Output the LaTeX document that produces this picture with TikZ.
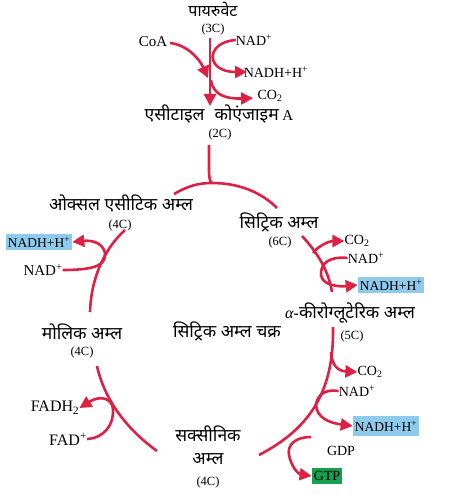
\documentclass[tikz,border=0pt]{standalone}
\usepackage{fontspec}
\setmainfont{Liberation Serif}
\newfontfamily\dev[Script=Devanagari]{Noto Sans}
\usetikzlibrary{arrows.meta}
\definecolor{kred}{RGB}{221,33,68}
\definecolor{kblue}{RGB}{142,202,236}
\definecolor{kgreen}{RGB}{22,160,82}
\begin{document}
\begin{tikzpicture}[x=1pt,y=-1pt,
  flow/.style={draw=kred, line width=2.6pt},
  arr/.style={flow, -{Triangle[length=12pt,width=12pt]}},
  lat/.style={inner sep=0pt, font=\fontsize{#1}{#1}\selectfont},
  lat/.default=15,
  hin/.style={inner sep=0pt, font=\dev\fontsize{#1}{#1}\selectfont},
  hin/.default=17.5,
  cnum/.style={inner sep=0pt, font=\fontsize{12.5}{13}\selectfont},
  bluebox/.style={fill=kblue, inner xsep=2pt, inner ysep=3pt, font=\fontsize{13.5}{13.5}\selectfont},
  greenbox/.style={fill=kgreen, inner xsep=2pt, inner ysep=3pt, font=\fontsize{14}{14}\selectfont}]
\useasboundingbox (0,0) rectangle (474,500);

% ---------- top: pyruvate -> acetyl CoA ----------
\node[hin=16] (pyr) at (213,9) {पायरुवेट};
\node[cnum] (c3) at (213,29) {(3C)};
\node[lat] (coa) at (153,42) {CoA};
\node[lat=14] (nad1) at (254,40) {NAD\textsuperscript{+}};
\node[lat=14] (nadh1) at (276,72) {NADH+H\textsuperscript{+}};
\node[lat=14] (co21) at (270,96) {CO\textsubscript{2}};
\node[lat] (acoa) at (219,114) {{\dev\fontsize{17.5}{17.5}\selectfont एसीटाइल\hspace{10pt}कोएंजाइम} A};
\node[cnum] (c2) at (220,134) {(2C)};

\coordinate (v1s) at (210,38);
\coordinate (v1e) at (210,106);
\draw[arr] (v1s) -- (v1e);
\coordinate (coaS) at (170,43);
\coordinate (coaE) at (208,78);
\draw[arr] (coaS) .. controls (188,45) and (200,60) .. (coaE);
\coordinate (n1s) at (236,40);
\coordinate (n1e) at (247,72);
\draw[arr] (n1s) .. controls (205,42) and (205,72) .. (n1e);
\coordinate (c1s) at (211,80);
\coordinate (c1e) at (253,98);
\draw[arr] (c1s) .. controls (213,96) and (228,99) .. (c1e);

% ---------- cycle labels ----------
\node[hin] (oxa) at (121,203) {ओक्सल एसीटिक अम्ल};
\node[cnum] (c4a) at (120,225) {(4C)};
\node[hin] (cit) at (279,222) {सिट्रिक अम्ल};
\node[cnum] (c6) at (280,242) {(6C)};
\node[lat=16] (ak) at (350,313) {\textit{α}-{\dev\fontsize{17.5}{17.5}\selectfont कीरोग्लूटेरिक अम्ल}};
\node[cnum] (c5) at (352,336) {(5C)};
\node[hin] (mal) at (82,332) {मोलिक अम्ल};
\node[cnum] (c4b) at (82,352) {(4C)};
\node[hin] (cyc) at (227,331) {सिट्रिक अम्ल चक्र};
\node[hin] (suc) at (208,434) {सक्सीनिक};
\node[hin] (suc2) at (208,459) {अम्ल};
\node[cnum] (c4c) at (208,482) {(4C)};

% ---------- side labels ----------
\node[bluebox] (nadhL) at (39,242) {NADH+H\textsuperscript{+}};
\node[lat] (nadL) at (43,270) {NAD\textsuperscript{+}};
\node[lat=14] (co2R) at (357,241) {CO\textsubscript{2}};
\node[lat=14] (nadR) at (366,258) {NAD\textsuperscript{+}};
\node[bluebox] (nadhR) at (391,285) {NADH+H\textsuperscript{+}};
\node[lat=14] (co2B) at (370,372) {CO\textsubscript{2}};
\node[lat=14] (nadB) at (357,391) {NAD\textsuperscript{+}};
\node[bluebox, inner ysep=5pt] (nadhB) at (386,426) {NADH+H\textsuperscript{+}};
\node[lat=14] (gdp) at (341,451) {GDP};
\node[greenbox] (gtp) at (327,476) {GTP};
\node[lat=16] (fadh) at (55,408) {FADH\textsubscript{2}};
\node[lat=16] (fad) at (68,439) {FAD\textsuperscript{+}};

% ---------- acetyl CoA into the cycle ----------
\coordinate (v2s) at (209,145);
\coordinate (j) at (212,183);
\coordinate (oxaE) at (174,194);
\coordinate (citS) at (277,208);
\draw[flow] (v2s) -- (209,170) .. controls (209,178) and (210,182) .. (j);
\draw[flow] (oxaE) .. controls (188,186) and (198,183) .. (j)
  .. controls (240,183) and (262,193) .. (citS);

% ---------- citric -> alpha-ketoglutaric ----------
\coordinate (citE) at (302,236);
\coordinate (akS) at (332,292);
\draw[flow] (citE) .. controls (315,250) and (328,268) .. (akS);
\coordinate (cb1) at (313,253);
\draw[arr] (cb1) .. controls (319,245) and (330,241) .. (co2R.west);
\coordinate (jr1) at (321,275);
\draw[arr] (nadR.west) .. controls (332,256) and (320,262) .. (jr1)
  .. controls (322,285) and (338,287) .. (nadhR.west);

% ---------- alpha-ketoglutaric -> succinic ----------
\coordinate (akE) at (333,327);
\coordinate (sucE) at (259,455);
\draw[flow] (akE) .. controls (334,388) and (313,427) .. (sucE);
\coordinate (cb2) at (331,352);
\draw[arr] (cb2) .. controls (332,366) and (338,371) .. (co2B.west);
\coordinate (jr2) at (316,404);
\draw[arr] (nadB.west) .. controls (326,389) and (318,394) .. (jr2)
  .. controls (316,418) and (330,423) .. (nadhB.west);
\coordinate (gdpS) at (311,437);
\coordinate (jr3) at (289,455);
\draw[arr] (gdpS) .. controls (295,437) and (287,445) .. (jr3)
  .. controls (291,466) and (298,474) .. (gtp.west);

% ---------- succinic -> malic ----------
\coordinate (sucS) at (157,451);
\coordinate (malE) at (97,366);
\draw[flow] (sucS) .. controls (125,428) and (104,398) .. (malE);
\coordinate (jl1) at (113,409);
\draw[arr] (fad.east) .. controls (104,438) and (114,425) .. (jl1)
  .. controls (112,398) and (100,395) .. (fadh.east);

% ---------- malic -> oxaloacetic ----------
\coordinate (malS) at (90,312);
\coordinate (oxaS) at (125,230);
\draw[flow] (malS) .. controls (91,280) and (103,250) .. (oxaS);
\coordinate (jl2) at (105,253);
\draw[arr] (nadL.east) .. controls (98,270) and (106,264) .. (jl2)
  .. controls (103,243) and (92,240) .. (nadhL.east);
\end{tikzpicture}
\end{document}
